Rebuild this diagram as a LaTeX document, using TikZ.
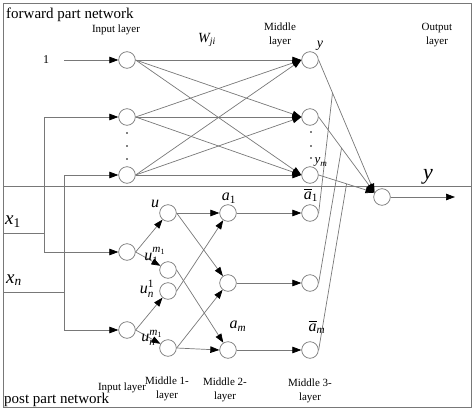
\documentclass[tikz,border=0pt]{standalone}
\usepackage{fontspec}
\usepackage{amsmath}
\setmainfont{Liberation Serif}
\usetikzlibrary{arrows.meta,calc}
\definecolor{lg}{RGB}{120,120,120}
\newcommand{\itx}[1]{\textit{#1}}
\newcommand{\rmx}[1]{\textrm{#1}}
\begin{document}
\begin{tikzpicture}[x=1pt,y=-1pt,
  neuron/.style={circle,draw=lg,line width=0.7pt,minimum size=16.6pt,inner sep=0pt},
  conn/.style={draw=lg,line width=0.7pt},
  arr/.style={conn,-{Triangle[length=9pt,width=6.5pt,color=black]}},
  lbl/.style={font=\fontsize{11}{13.5}\selectfont,align=center,inner sep=0pt},
  title/.style={font=\fontsize{15}{18}\selectfont,anchor=west,inner sep=0pt},
  var/.style={font=\fontsize{16}{18}\selectfont,inner sep=0pt},
  dotmark/.style={fill=black}]
\useasboundingbox (0,0) rectangle (474,410);
\draw[lg,line width=1pt] (3,3) rectangle (471,407);
\draw[lg,line width=0.8pt] (3,186) -- (471,186);

% forward network nodes
\node[neuron] (fi1) at (127,60) {};
\node[neuron] (fi2) at (127,117) {};
\node[neuron] (fi3) at (127,175) {};
\node[neuron] (fm1) at (310,60) {};
\node[neuron] (fm2) at (310,117) {};
\node[neuron] (fm3) at (310,175) {};
\node[neuron] (out) at (382,197) {};

% post network nodes
\node[neuron] (pi1) at (127,252) {};
\node[neuron] (pi2) at (127,330) {};
\node[neuron] (u1) at (168,213) {};
\node[neuron] (u2) at (168,270) {};
\node[neuron] (u3) at (168,291) {};
\node[neuron] (u4) at (168,348) {};
\node[neuron] (a1) at (228,213) {};
\node[neuron] (a2) at (228,283) {};
\node[neuron] (a3) at (228,350) {};
\node[neuron] (b1) at (310,213) {};
\node[neuron] (b2) at (310,283) {};
\node[neuron] (b3) at (310,350) {};

% forward connections
\foreach \i in {fi1,fi2,fi3}{
  \foreach \j in {fm1,fm2,fm3}{
    \draw[arr] (\i.east) -- (\j.west);
  }
}
\foreach \j in {fm1,fm2,fm3}{
  \draw[arr] (\j.east) -- (out.150);
}
\coordinate (m1) at ($(fm1.east)!0.248!(out.150)$);
\coordinate (m2) at ($(fm2.east)!0.41!(out.150)$);
\coordinate (m3) at ($(fm3.east)!0.5!(out.150)$);
\draw[conn] (b1.east) -- (m1);
\draw[conn] (b2.east) -- (m2);
\draw[conn] (b3.east) -- (m3);
\coordinate (yend) at (455,197);
\draw[arr] (out.east) -- (yend);

% inputs
\node[font=\fontsize{12}{14}\selectfont,inner sep=0pt] (one) at (46,60) {1};
\coordinate (c1) at (64,60);
\draw[arr] (c1) -- (fi1.west);

\coordinate (x1s) at (3,233);
\coordinate (x1e) at (44,233);
\coordinate (j1t) at (44,117);
\coordinate (j1b) at (44,252);
\draw[conn] (x1s) -- (x1e);
\draw[conn] (j1t) -- (j1b);
\draw[arr] (j1t) -- (fi2.west);
\draw[arr] (j1b) -- (pi1.west);

\coordinate (xns) at (3,292);
\coordinate (xne) at (64,292);
\coordinate (j2t) at (64,175);
\coordinate (j2b) at (64,330);
\draw[conn] (xns) -- (xne);
\draw[conn] (j2t) -- (j2b);
\draw[arr] (j2t) -- (fi3.west);
\draw[arr] (j2b) -- (pi2.west);

% post connections
\draw[arr] (pi1.east) -- (u1);
\draw[arr] (pi1.east) -- (u2);
\draw[arr] (pi2.east) -- (u3);
\draw[arr] (pi2.east) -- (u4);
\draw[arr] (u1.east) -- (a1.west);
\draw[arr] (u1.east) -- (a2);
\draw[arr] (u2.east) -- (a3);
\draw[arr] (u3.east) -- (a1);
\draw[arr] (u4.east) -- (a2);
\draw[arr] (u4.east) -- (a3.west);
\draw[arr] (a1.east) -- (b1.west);
\draw[arr] (a2.east) -- (b2.west);
\draw[arr] (a3.east) -- (b3.west);

% dots
\foreach \yy in {133,146,159}{ \fill[dotmark] (127,\yy) circle (0.9); }
\foreach \yy in {132,146,158}{ \fill[dotmark] (311,\yy) circle (0.9); }

% labels
\node[title] (tf) at (6,15) {forward part network};
\node[title] (tp) at (4,400) {post part network};
\node[lbl] (lin) at (116,30) {Input layer};
\node[lbl] (lmid) at (280,35) {Middle\\layer};
\node[lbl] (lout) at (437,35) {Output\\layer};
\node[font=\fontsize{14}{16}\selectfont,inner sep=0pt] (w) at (207,40) {$\itx{W}_{\itx{ji}}$};
\node[font=\fontsize{14}{16}\selectfont,inner sep=0pt] (ly1) at (320,46) {$\itx{y}$};
\node[font=\fontsize{13}{15}\selectfont,inner sep=0pt] (lym) at (321,162) {$\itx{y}_{\itx{m}}$};
\node[font=\fontsize{22}{24}\selectfont,inner sep=0pt] (ly) at (428,177) {$\itx{y}$};

\node[font=\fontsize{19}{21}\selectfont,inner sep=0pt] (lx1) at (13,222) {$\itx{x}_{\rmx{1}}$};
\node[font=\fontsize{19}{21}\selectfont,inner sep=0pt] (lxn) at (14,280) {$\itx{x}_{\itx{n}}$};

\node[var] (lu1) at (155,204) {$\itx{u}$};
\node[var] (lu2) at (155,256) {$\itx{u}_{\rmx{1}}^{\itx{m}_{\rmx{1}}}$};
\node[var] (lu3) at (147,289) {$\itx{u}_{\itx{n}}^{\rmx{1}}$};
\node[var] (lu4) at (152,338) {$\itx{u}_{\itx{n}}^{\itx{m}_{\rmx{1}}}$};
\node[var] (la1) at (229,198) {$\itx{a}_{\rmx{1}}$};
\node[var] (la3) at (238,326) {$\itx{a}_{\itx{m}}$};
\node[var] (lb1) at (311,195) {$\overline{\itx{a}}_{\rmx{1}}$};
\node[var] (lb3) at (317,327) {$\overline{\itx{a}}_{\itx{m}}$};

\node[lbl] (bin) at (122,388) {Input layer};
\node[lbl] (bm1) at (167,389) {Middle 1-\\layer};
\node[lbl] (bm2) at (225,390) {Middle 2-\\layer};
\node[lbl] (bm3) at (310,391) {Middle 3-\\layer};
\end{tikzpicture}
\end{document}
